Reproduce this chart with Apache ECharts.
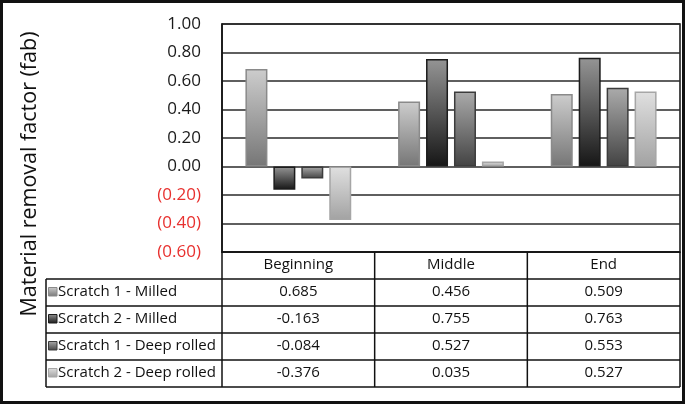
<!DOCTYPE html>
<html>
<head>
<meta charset="utf-8">
<script src="https://cdn.jsdelivr.net/npm/echarts@6/dist/echarts.min.js"></script>
<style>
html, body { margin: 0; padding: 0; background: #fff; }
#chart { width: 685px; height: 404px; }
</style>
</head>
<body>
<div id="chart"></div>
<script>
// data
var categories = ['Beginning', 'Middle', 'End'];
var seriesNames = ['Scratch 1 - Milled', 'Scratch 2 - Milled', 'Scratch 1 - Deep rolled', 'Scratch 2 - Deep rolled'];
var scratch1Milled = [0.685, 0.456, 0.509];
var scratch2Milled = [-0.163, 0.755, 0.763];
var scratch1Rolled = [-0.084, 0.527, 0.553];
var scratch2Rolled = [-0.376, 0.035, 0.527];
var yMin = -0.6, yMax = 1.0, yStep = 0.2;

var allValues = [scratch1Milled, scratch2Milled, scratch1Rolled, scratch2Rolled];

// top, bottom, outline
var shades = [
	['#cdcdcd', '#767676', '#8a8a8a'],
	['#959595', '#161616', '#1c1c1c'],
	['#ababab', '#434343', '#3c3c3c'],
	['#e0e0e0', '#a2a2a2', '#a6a6a6']
];

function grad(s) {
	return new echarts.graphic.LinearGradient(0, 0, 0, 1, [
		{ offset: 0, color: s[0] },
		{ offset: 1, color: s[1] }
	]);
}

var plotLeft = 222, plotRight = 680, plotTop = 24, plotBottom = 252;
var tableLeft = 46, rowH = 27;
var font = '"Open Sans", sans-serif';

var myChart = echarts.init(document.getElementById('chart'));

var series = allValues.map(function (vals, i) {
	return {
		name: seriesNames[i],
		type: 'bar',
		data: vals,
		barWidth: 22,
		barGap: '27%',
		itemStyle: {
			color: grad(shades[i]),
			borderColor: shades[i][2],
			borderWidth: 1.5
		}
	};
});

var option = {
	animation: false,
	grid: {
		left: plotLeft,
		right: 685 - plotRight,
		top: plotTop,
		bottom: 404 - plotBottom,
		show: true,
		borderColor: '#111',
		borderWidth: 1.5
	},
	xAxis: {
		type: 'category',
		data: categories,
		axisLine: { onZero: false, lineStyle: { color: '#111', width: 1.5 } },
		axisTick: { show: false },
		axisLabel: { margin: 5, fontSize: 15, color: '#111', fontFamily: font },
		splitLine: { show: false }
	},
	yAxis: {
		type: 'value',
		min: yMin,
		max: yMax,
		interval: yStep,
		axisLine: { show: true, lineStyle: { color: '#111', width: 1.5 } },
		axisTick: { show: false },
		splitLine: { lineStyle: { color: '#2a2a2a', width: 1.5 } },
		axisLabel: {
			margin: 21,
			fontSize: 17,
			fontFamily: font,
			formatter: function (v) {
				var s = Math.abs(v).toFixed(2);
				return v < -1e-9 ? '(' + s + ')' : s;
			},
			color: function (v) {
				return Number(v) < -1e-9 ? '#e8312f' : '#1a1a1a';
			}
		}
	},
	series: series
};

myChart.setOption(option);

// 数据表 + 边框
var g = [];
function line(x1, y1, x2, y2, w) {
	g.push({ type: 'line', shape: { x1: x1, y1: y1, x2: x2, y2: y2 }, style: { stroke: '#111', lineWidth: w || 1.5 }, z: 10 });
}
function text(str, x, y, size, align, rot) {
	g.push({
		type: 'text', x: x, y: y, rotation: rot || 0, z: 11,
		style: { text: str, font: size + 'px ' + font, fill: '#111', align: align, verticalAlign: 'middle', textAlign: align, textVerticalAlign: 'middle' }
	});
}

var colW = (plotRight - plotLeft) / categories.length;
var tableBottom = plotBottom + rowH * (seriesNames.length + 1);
for (var c = 0; c <= categories.length; c++) {
	line(plotLeft + c * colW, plotBottom, plotLeft + c * colW, tableBottom);
}
line(tableLeft, plotBottom + rowH, tableLeft, tableBottom);
for (var r = 1; r <= seriesNames.length + 1; r++) {
	line(tableLeft, plotBottom + r * rowH, plotRight, plotBottom + r * rowH);
}
seriesNames.forEach(function (name, i) {
	var cy = plotBottom + rowH * (i + 1) + rowH / 2 - 1;
	g.push({ type: 'rect', shape: { x: 48.5, y: cy - 4, width: 8.5, height: 8.5 }, style: { fill: grad(shades[i]), stroke: shades[i][2], lineWidth: 1 }, z: 11 });
	text(name, 58, cy, 15, 'left');
	allValues[i].forEach(function (v, j) {
		var cx = myChart.convertToPixel({ xAxisIndex: 0 }, categories[j]);
		text(v.toFixed(3), cx, cy, 15, 'center');
	});
});

text('Material removal factor (fab)', 30, 174, 21.5, 'center', Math.PI / 2);

g.push({ type: 'rect', shape: { x: 1.5, y: 1.5, width: 682, height: 401 }, style: { fill: 'none', stroke: '#111', lineWidth: 3 }, z: 12 });

myChart.setOption({ graphic: g });
</script>
</body>
</html>
